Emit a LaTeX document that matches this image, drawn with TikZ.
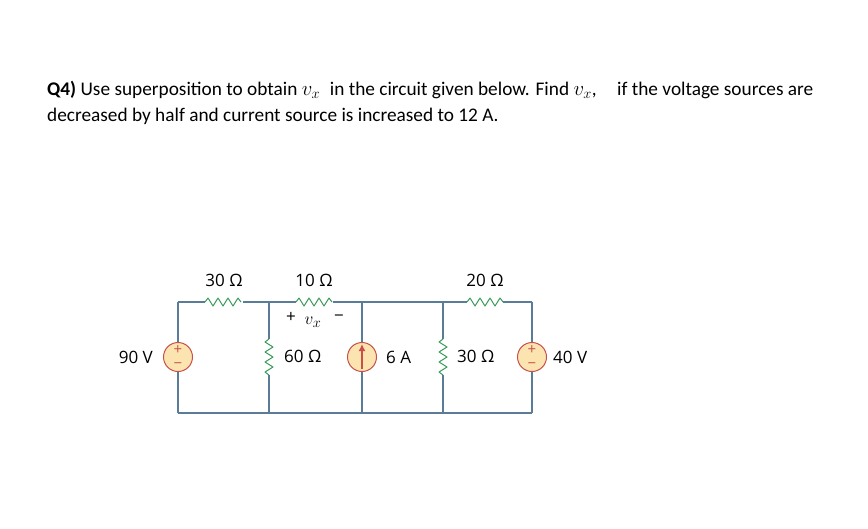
\documentclass[tikz,border=0pt]{standalone}
\usepackage{fontspec}
\usetikzlibrary{arrows.meta}
\setmainfont{Carlito}
\newfontfamily\lbl{Open Sans}
\begin{document}
\begin{tikzpicture}[x=1pt,y=-1pt,
  wire/.style={draw=wirec,line width=1.1pt},
  res/.style={draw=resc,line width=1pt,line join=round},
  src/.style={circle,draw=srcc,fill=srcf,line width=1pt,minimum size=29pt,inner sep=0pt},
  lab/.style={font=\lbl\fontsize{17}{19}\selectfont,inner sep=0pt},
  sgn/.style={font=\lbl\fontsize{15}{15}\selectfont,text=srcc,inner sep=0pt}]
\definecolor{wirec}{HTML}{5B7C99}
\definecolor{resc}{HTML}{3A9A5A}
\definecolor{srcc}{HTML}{C9504A}
\definecolor{srcf}{HTML}{FCE4B0}
\useasboundingbox (0,0) rectangle (868,528);
\node[anchor=west,inner sep=0pt,font=\fontsize{19.3}{22}\selectfont] (t1) at (47,90) {\textbf{Q4)} Use superposition to obtain $v_x$\; in the circuit given below. Find $v_x$,\;\;\; if the voltage sources are};
\node[anchor=west,inner sep=0pt,font=\fontsize{19.3}{22}\selectfont] (t2) at (47,116) {decreased by half and current source is increased to 12 A.};
% coordinates
\coordinate (tl) at (178,302); \coordinate (bl) at (178,413);
\coordinate (ta) at (269,302); \coordinate (ba) at (269,413);
\coordinate (tb) at (362,302); \coordinate (bb) at (362,413);
\coordinate (tc) at (443,302); \coordinate (bc) at (443,413);
\coordinate (tr) at (532,302); \coordinate (br) at (532,413);
\node[src] (v1) at (178,357) {};
\node[src] (is) at (362,357) {};
\node[src] (v2) at (532,357) {};
% bottom
\draw[wire] (bl) -- (br);
% verticals
\draw[wire] (v1) -- (tl); \draw[wire] (v1) -- (bl);
\draw[wire] (is) -- (tb); \draw[wire] (is) -- (bb);
\draw[wire] (v2) -- (tr); \draw[wire] (v2) -- (br);
\draw[wire] (ta) -- (269,339); \draw[wire] (269,375) -- (ba);
\draw[wire] (tc) -- (443,339); \draw[wire] (443,375) -- (bc);
% top wires
\draw[wire] (tl) -- (205,302); \draw[wire] (243,302) -- (296,302);
\draw[wire] (333,302) -- (467,302); \draw[wire] (503,302) -- (tr);
% horizontal resistors
\foreach \a in {205,296,467}{
 \draw[res] (\a,302) -- ++(3,-4) -- ++(5,8) -- ++(5,-8) -- ++(5,8) -- ++(5,-8) -- ++(5,8) -- ++(5,-8) -- ++(3,4);}
% vertical resistors
\foreach \a in {269,443}{
 \draw[res] (\a,339) -- ++(-4,3) -- ++(8,5) -- ++(-8,5) -- ++(8,5) -- ++(-8,5) -- ++(8,5) -- ++(-8,5) -- ++(4,3);}
% source symbols
\node[sgn] (p1) at (178,350) {+};
\node[sgn] (m1) at (178,366) {\char"2212};
\node[sgn] (p2) at (532,350) {+};
\node[sgn] (m2) at (532,366) {\char"2212};
\draw[srcc,line width=1.4pt,-{Latex[length=7pt,width=7pt]}] (362,369) -- (362,344);
% labels
\node[lab] (l1) at (224,280) {30 Ω};
\node[lab] (l2) at (314,280) {10 Ω};
\node[lab] (l3) at (485,280) {20 Ω};
\node[lab,anchor=east] (l4) at (153,357) {90 V};
\node[lab,anchor=west] (l5) at (284,356) {60 Ω};
\node[lab,anchor=west] (l6) at (386,357) {6 A};
\node[lab,anchor=west] (l7) at (457,356) {30 Ω};
\node[lab,anchor=west] (l8) at (553,357) {40 V};
\node[lab] (pl) at (291,317) {+};
\node[lab,font=\lbl\fontsize{19}{19}\selectfont] (vx) at (313,322) {$v_x$};
\node[lab] (mi) at (339,318) {\char"2212};
\end{tikzpicture}
\end{document}
